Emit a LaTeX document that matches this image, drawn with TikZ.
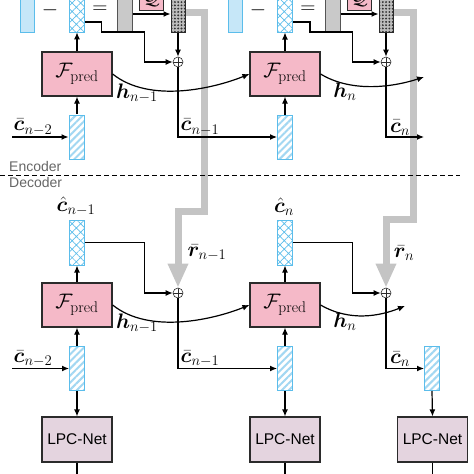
\RequirePackage{fix-cm}
\documentclass[tikz,border=0pt]{standalone}
\usepackage{amsmath,amssymb,bm}
\usepackage{fontspec}
\setsansfont{Liberation Sans}
\usetikzlibrary{arrows.meta,patterns,patterns.meta,calc}
\pgfdeclarelayer{bg}
\pgfsetlayers{bg,main}
\definecolor{bblue}{HTML}{5BBDEB}
\definecolor{bfill}{HTML}{C6E7F8}
\definecolor{hblue}{HTML}{A2D7F2}
\definecolor{fpink}{HTML}{F5B9C8}
\definecolor{lpcc}{HTML}{E4D4DF}
\definecolor{gbar}{HTML}{C4C4C4}
\definecolor{gbox}{HTML}{C9C9C9}
\definecolor{dfill}{HTML}{BDBDBD}
\definecolor{edge}{HTML}{2B2B2B}
\newcommand{\Fpred}{$\mathcal{F}_{\text{\fontsize{15.5}{16}\selectfont pred}}$}
\tikzset{
  mfont/.style={font=\fontsize{21}{24}\selectfont},
  fpredbox/.style={draw=edge,line width=1.2pt,fill=fpink,minimum width=70pt,minimum height=44pt,inner sep=0pt,mfont},
  lpcbox/.style={draw=edge,line width=1.2pt,fill=lpcc,minimum width=70pt,minimum height=45pt,inner sep=0pt,font=\sffamily\fontsize{15.5}{18}\selectfont},
  hatchbox/.style={draw=bblue,line width=1pt,minimum width=15pt,minimum height=44pt,inner sep=0pt,pattern={Lines[angle=45,distance=5pt,line width=2pt]},pattern color=hblue},
  xhbox/.style={draw=bblue,line width=1pt,minimum width=15pt,inner sep=0pt,pattern={Hatch[angle=45,distance=6pt,line width=0.7pt]},pattern color=bblue},
  bluebox/.style={draw=bblue,line width=1pt,fill=bfill,minimum width=14pt,minimum height=40pt,inner sep=0pt},
  greybox/.style={draw=edge!80,line width=1pt,fill=gbox,minimum width=15pt,minimum height=40pt,inner sep=0pt},
  qbox/.style={draw=edge,line width=1pt,fill=fpink,minimum width=24pt,minimum height=24pt,inner sep=0pt,mfont},
  dotbox/.style={draw=edge,line width=1pt,minimum width=14pt,minimum height=40pt,inner sep=0pt,preaction={fill=dfill},pattern={Dots[distance=3.3pt,radius=1.05pt]},pattern color=black!80},
  plusnode/.style={circle,draw=edge,line width=0.6pt,fill=white,minimum size=10pt,inner sep=0pt,path picture={\draw[line width=0.6pt,edge] (path picture bounding box.north) -- (path picture bounding box.south) (path picture bounding box.west) -- (path picture bounding box.east);}},
  arr/.style={-{Latex[length=7pt,width=6pt]},line width=1.2pt,draw=black},
  wire/.style={line width=1.2pt,draw=black},
  gline/.style={line width=7pt,draw=gbar,-{Triangle[length=24pt,width=19pt]}},
  lbl/.style={mfont,inner sep=0pt},
  sidetxt/.style={font=\sffamily\fontsize{14}{16}\selectfont,text=black!60,anchor=west,inner sep=0pt},
}
\begin{document}
\begin{tikzpicture}[x=1pt,y=-1pt]
\useasboundingbox (0,0) rectangle (474,474);
\begin{pgfonlayer}{bg}
\fill[white] (0,0) rectangle (474,474);
\end{pgfonlayer}

% ---------- Encoder, column n-1 ----------
\node[bluebox] (b1) at (27,12) {};
\node[lbl] (m1) at (50,10) {$-$};
\node[xhbox,minimum height=40pt] (x1) at (77,12) {};
\node[lbl] (e1) at (100,10) {$=$};
\node[greybox] (g1) at (124.5,12) {};
\node[qbox] (q1) at (151.5,-2) {$\mathcal{Q}$};
\node[dotbox] (d1) at (178,12) {};
\node[plusnode] (p1) at (178,62) {};
\node[fpredbox] (f1) at (77,74) {\Fpred};
\node[hatchbox] (h1) at (77,137) {};

% ---------- Encoder, column n ----------
\node[bluebox] (b2) at (235,12) {};
\node[lbl] (m2) at (258,10) {$-$};
\node[xhbox,minimum height=40pt] (x2) at (285,12) {};
\node[lbl] (e2) at (308,10) {$=$};
\node[greybox] (g2) at (332.5,12) {};
\node[qbox] (q2) at (359.5,-2) {$\mathcal{Q}$};
\node[dotbox] (d2) at (386,12) {};
\node[plusnode] (p2) at (386,62) {};
\node[fpredbox] (f2) at (285,74) {\Fpred};
\node[hatchbox] (h2) at (285,137) {};

% ---------- Decoder ----------
\node[lbl,anchor=south] (ch1) at (76,216) {$\hat{\bm c}_{n-1}$};
\node[xhbox,minimum height=45pt] (xd1) at (77,242.5) {};
\node[fpredbox] (fd1) at (77,305) {\Fpred};
\node[plusnode] (pd1) at (178,293) {};
\node[hatchbox] (hd1) at (77,368.5) {};
\node[lpcbox] (l1) at (77,439.5) {LPC-Net};

\node[lbl,anchor=south] (ch2) at (284,216) {$\hat{\bm c}_{n}$};
\node[xhbox,minimum height=45pt] (xd2) at (285,242.5) {};
\node[fpredbox] (fd2) at (285,305) {\Fpred};
\node[plusnode] (pd2) at (386,293) {};
\node[hatchbox] (hd2) at (285,368.5) {};
\node[lpcbox] (l2) at (285,439.5) {LPC-Net};

\node[hatchbox] (hd3) at (432,368.5) {};
\node[lpcbox] (l3) at (432.5,439.5) {LPC-Net};

% ---------- grey residual paths ----------
\begin{pgfonlayer}{bg}
\draw[gline] ([xshift=0.5pt]d1.east) -| (204,211) -| (pd1.north);
\draw[gline] ([xshift=0.5pt]d2.east) -| (413,219) -| (pd2.north);
\end{pgfonlayer}

% ---------- encoder / decoder separator ----------
\node[sidetxt] (enc) at (9,166) {Encoder};
\node[sidetxt] (dec) at (9,182) {Decoder};
\coordinate (sepL) at (0,175);
\coordinate (sepR) at (460,175);
\draw[line width=1pt,dash pattern=on 5pt off 3pt] (sepL) -- (sepR);

% ---------- encoder connectors ----------
\foreach \f/\x/\d/\g/\p/\h in {f1/x1/d1/g1/p1/h1, f2/x2/d2/g2/p2/h2}{
  \draw[arr] (\f.north) -- (\x.south);
  \draw[arr] (\h.north) -- (\f.south);
  \draw[arr] (\d.south) -- (\p.north);
  \draw[arr] ($(\g.east)+(0,2)$) -- ($(\d.west)+(0,2)$);
  \draw[arr] ($(\x.east)+(0,10)$) -| ([xshift=17pt,yshift=-20pt]\x.east) -| ([xshift=-28pt]\p.west) -- (\p.west);
}
\coordinate (cin1) at (12,137);
\draw[arr] (cin1) -- (h1.west);
\draw[arr] (p1.south) |- (h2.west);
\coordinate (cout2) at (424,137);
\draw[arr] (p2.south) |- (cout2);
\draw[arr] (f1.east) .. controls (150,104) and (215,88) .. (f2.west);
\coordinate (hout2) at (424,77);
\draw[arr] (f2.east) .. controls (350,92) and (390,88) .. (hout2);

\node[lbl,anchor=south] (lc0) at (33,135.5) {$\bar{\bm c}_{n-2}$};
\node[lbl,anchor=south] (lc1) at (200,135.5) {$\bar{\bm c}_{n-1}$};
\node[lbl,anchor=south] (lc2) at (400,135.5) {$\bar{\bm c}_{n}$};
\node[lbl] (lh1) at (137,93) {$\bm h_{n-1}$};
\node[lbl] (lh2) at (345,92) {$\bm h_{n}$};

% ---------- decoder connectors ----------
\foreach \f/\x/\p/\h/\l in {fd1/xd1/pd1/hd1/l1, fd2/xd2/pd2/hd2/l2}{
  \draw[arr] (\f.north) -- (\x.south);
  \draw[arr] (\h.north) -- (\f.south);
  \draw[arr] (\h.south) -- (\l.north);
  \draw[arr] (\x.east) -| ([xshift=-28pt]\p.west) -- (\p.west);
}
\draw[arr] (hd3.south) -- (l3.north);
\coordinate (cind) at (12,368.5);
\draw[arr] (cind) -- (hd1.west);
\draw[arr] (pd1.south) |- (hd2.west);
\draw[arr] (pd2.south) |- (hd3.west);
\draw[arr] (fd1.east) .. controls (150,335) and (215,319) .. (fd2.west);
\coordinate (houtd) at (405,306);
\draw[arr] (fd2.east) .. controls (350,322) and (380,316) .. (houtd);
\coordinate (lo1) at (77,480);
\coordinate (lo2) at (285,480);
\coordinate (lo3) at (432.5,480);
\draw[wire] (l1.south) -- (lo1);
\draw[wire] (l2.south) -- (lo2);
\draw[wire] (l3.south) -- (lo3);

\node[lbl,anchor=south] (lcd0) at (33,367) {$\bar{\bm c}_{n-2}$};
\node[lbl,anchor=south] (lcd1) at (200,367) {$\bar{\bm c}_{n-1}$};
\node[lbl,anchor=south] (lcd2) at (400,367) {$\bar{\bm c}_{n}$};
\node[lbl] (lhd1) at (137,323) {$\bm h_{n-1}$};
\node[lbl] (lhd2) at (345,322) {$\bm h_{n}$};
\node[lbl] (lr1) at (207,253) {$\bar{\bm r}_{n-1}$};
\node[lbl] (lr2) at (404,253) {$\bar{\bm r}_{n}$};
\end{tikzpicture}
\end{document}
